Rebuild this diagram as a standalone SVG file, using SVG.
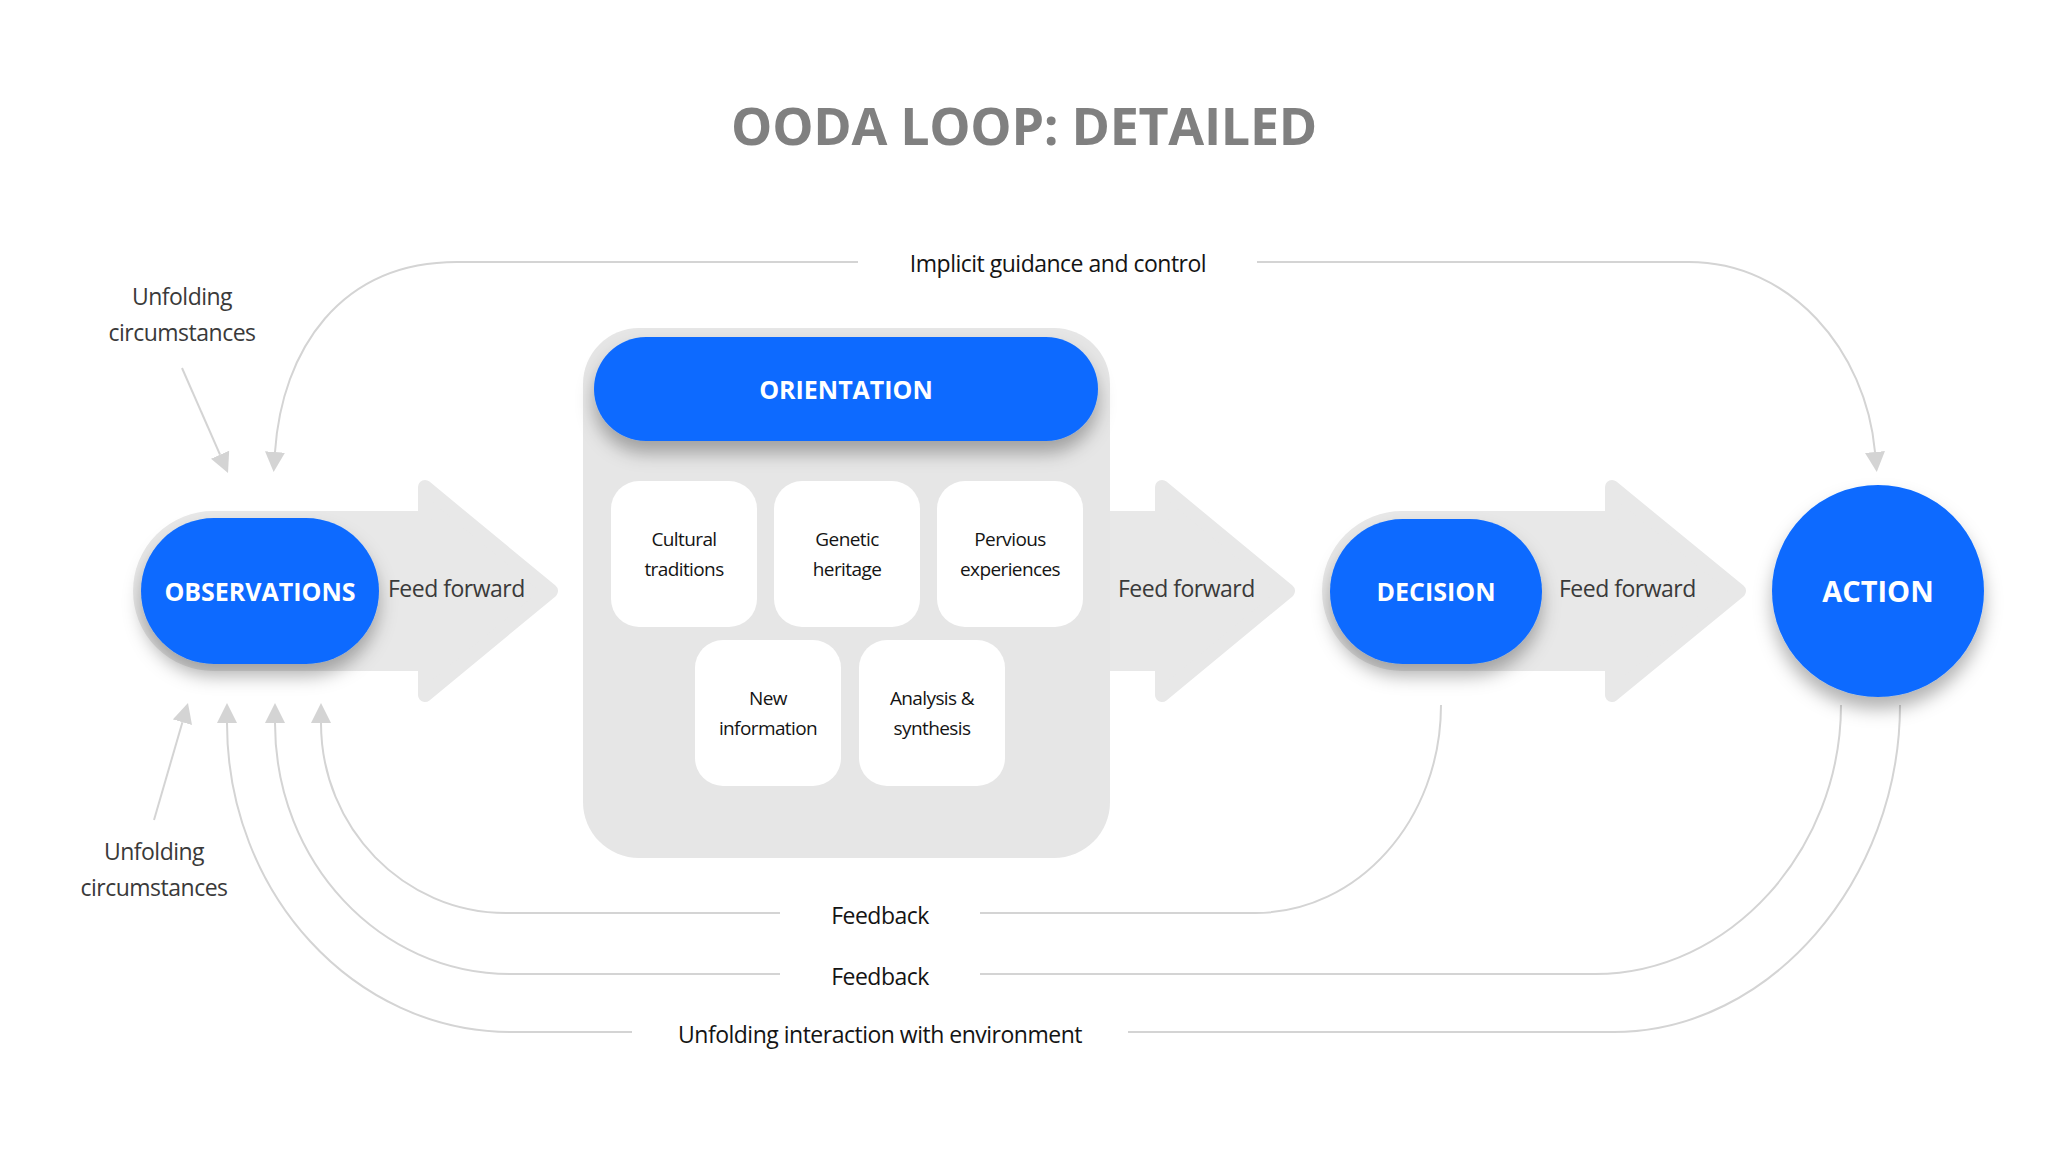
<svg xmlns="http://www.w3.org/2000/svg" width="2048" height="1152" viewBox="0 0 2048 1152">
<style>
.bg{fill:#ffffff}
.title{font-family:"Open Sans","Noto Sans",sans-serif;font-weight:700;font-size:52px;fill:#808080;letter-spacing:-0.3px}
.lbl{font-family:"Open Sans","Noto Sans",sans-serif;font-size:23px;fill:#3a3a3a;letter-spacing:-0.5px}
.lbl-d{font-family:"Open Sans","Noto Sans",sans-serif;font-size:23px;fill:#141414;letter-spacing:-0.5px}
.box-t{font-family:"Open Sans","Noto Sans",sans-serif;font-size:19px;fill:#141414;letter-spacing:-0.6px}
.node-t{font-family:"Open Sans","Noto Sans",sans-serif;font-weight:700;font-size:25px;fill:#ffffff}
.blue{fill:#0a6aff}
.ff{fill:#e8e8e8;stroke:#e8e8e8;stroke-width:14;stroke-linejoin:round}
.cont{fill:#e6e6e6}
.box{fill:#ffffff}
.conn{fill:none;stroke:#d4d4d4;stroke-width:2}
.arr{marker-end:url(#ah)}
</style>
<defs>
<marker id="ah" markerUnits="userSpaceOnUse" markerWidth="20" markerHeight="20" refX="0" refY="10" orient="auto" viewBox="0 0 20 20">
<path d="M0,0 L20,10 L0,20 Z" fill="#d4d4d4"/>
</marker>
<filter id="sh" x="-30%" y="-30%" width="160%" height="180%">
<feDropShadow dx="0" dy="12" stdDeviation="9" flood-color="#000000" flood-opacity="0.3"/>
</filter>
</defs>
<rect class="bg" x="0" y="0" width="2048" height="1152"/>

<g id="title">
<text class="title" x="1024" y="145" text-anchor="middle">OODA LOOP: DETAILED</text>
</g>

<g id="connectors">
<!-- implicit guidance and control -->
<path class="conn arr" d="M858 262 H457 C340 262 282 350 275 452"/>
<path class="conn arr" d="M1257 262 H1689 C1790 262 1866 350 1875 452"/>
<text class="lbl-d" x="1058" y="272" text-anchor="middle">Implicit guidance and control</text>
<!-- unfolding circumstances -->
<path class="conn arr" d="M182 368 L220 454.7"/>
<path class="conn arr" d="M154 820 L182.4 722.2"/>
<!-- feedback 1 -->
<path class="conn arr" d="M780 913 H506 C404 913 321 828 321 723"/>
<path class="conn" d="M1441 705 C1441 820 1358 913 1255 913 H980"/>
<text class="lbl-d" x="880" y="924" text-anchor="middle">Feedback</text>
<!-- feedback 2 -->
<path class="conn arr" d="M780 974 H510 C380 974 275 862 275 723"/>
<path class="conn" d="M1841 705 C1841 850 1730 974 1595 974 H980"/>
<text class="lbl-d" x="880" y="985" text-anchor="middle">Feedback</text>
<!-- unfolding interaction -->
<path class="conn arr" d="M632 1032 H511 C354 1032 227 893 227 723"/>
<path class="conn" d="M1900 705 C1900 880 1770 1032 1614 1032 H1128"/>
<text class="lbl-d" x="880" y="1043" text-anchor="middle">Unfolding interaction with environment</text>
<!-- feed forward arrows -->
<path class="ff" d="M213 518 H425 V487 L551 591 L425 695 V664 H213 A73 73 0 0 1 213 518 Z"/>
<path class="ff" d="M1090 518 H1162 V487 L1288 591 L1162 695 V664 H1090 Z"/>
<path class="ff" d="M1402 518 H1612 V487 L1739 591 L1612 695 V664 H1402 A73 73 0 0 1 1402 518 Z"/>
</g>

<g id="labels-outer">
<text class="lbl" x="182" y="305" text-anchor="middle">Unfolding</text>
<text class="lbl" x="182" y="341" text-anchor="middle">circumstances</text>
<text class="lbl" x="154" y="860" text-anchor="middle">Unfolding</text>
<text class="lbl" x="154" y="896" text-anchor="middle">circumstances</text>
</g>

<g id="node-observations">
<rect class="blue" x="141" y="518" width="238" height="146" rx="73" filter="url(#sh)"/>
<text class="node-t" x="260" y="601" text-anchor="middle">OBSERVATIONS</text>
<text class="lbl" x="388" y="597">Feed forward</text>
</g>

<g id="node-orientation">
<rect class="cont" x="583" y="328" width="527" height="530" rx="56"/>
<rect class="blue" x="594" y="337" width="504" height="104" rx="52" filter="url(#sh)"/>
<text class="node-t" x="846" y="399" text-anchor="middle">ORIENTATION</text>
<g id="box-cultural">
<rect class="box" x="611" y="481" width="146" height="146" rx="28"/>
<text class="box-t" x="684" y="546" text-anchor="middle">Cultural</text>
<text class="box-t" x="684" y="576" text-anchor="middle">traditions</text>
</g>
<g id="box-genetic">
<rect class="box" x="774" y="481" width="146" height="146" rx="28"/>
<text class="box-t" x="847" y="546" text-anchor="middle">Genetic</text>
<text class="box-t" x="847" y="576" text-anchor="middle">heritage</text>
</g>
<g id="box-previous">
<rect class="box" x="937" y="481" width="146" height="146" rx="28"/>
<text class="box-t" x="1010" y="546" text-anchor="middle">Pervious</text>
<text class="box-t" x="1010" y="576" text-anchor="middle">experiences</text>
</g>
<g id="box-new">
<rect class="box" x="695" y="640" width="146" height="146" rx="28"/>
<text class="box-t" x="768" y="705" text-anchor="middle">New</text>
<text class="box-t" x="768" y="735" text-anchor="middle">information</text>
</g>
<g id="box-analysis">
<rect class="box" x="859" y="640" width="146" height="146" rx="28"/>
<text class="box-t" x="932" y="705" text-anchor="middle">Analysis &amp;</text>
<text class="box-t" x="932" y="735" text-anchor="middle">synthesis</text>
</g>
<text class="lbl" x="1118" y="597">Feed forward</text>
</g>

<g id="node-decision">
<rect class="blue" x="1330" y="519" width="212" height="145" rx="72.5" filter="url(#sh)"/>
<text class="node-t" x="1436" y="601" text-anchor="middle">DECISION</text>
<text class="lbl" x="1559" y="597">Feed forward</text>
</g>

<g id="node-action">
<circle class="blue" cx="1878" cy="591" r="106" filter="url(#sh)"/>
<text class="node-t" x="1878" y="602" text-anchor="middle" style="font-size:29px">ACTION</text>
</g>
</svg>
